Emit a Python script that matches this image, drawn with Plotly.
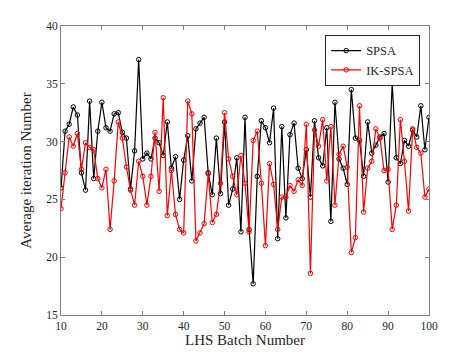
import plotly.graph_objects as go

batch = list(range(10, 101))

spsa = [26.0, 30.9, 31.5, 33.0, 32.3, 27.3, 25.8, 33.5, 26.8, 30.9,
        33.4, 31.2, 30.9, 32.4, 32.5, 30.8, 30.3, 25.9, 29.2, 37.1,
        28.5, 29.0, 28.5, 30.3, 29.9, 28.8, 31.7, 27.7, 28.7, 25.0,
        28.4, 30.5, 26.6, 31.1, 31.6, 32.1, 27.3, 25.4, 30.3, 25.5,
        31.7, 24.5, 25.9, 28.6, 22.2, 32.1, 22.4, 17.7, 27.0, 31.8,
        31.2, 29.9, 32.9, 21.6, 31.3, 23.4, 30.6, 31.6, 27.7, 26.8,
        29.3, 25.2, 31.8, 28.6, 27.9, 31.2, 23.1, 33.4, 28.5, 27.7,
        26.3, 34.5, 30.3, 30.1, 27.0, 31.7, 29.0, 29.7, 30.4, 30.7,
        26.5, 35.05, 28.6, 28.1, 30.1, 29.6, 31.0, 30.4, 33.1, 29.3,
        32.1]

ik_spsa = [24.2, 27.3, 30.4, 29.6, 30.7, 27.6, 29.9, 29.5, 29.3, 26.8,
           26.0, 27.6, 22.4, 26.6, 31.7, 30.3, 27.8, 25.8, 24.5, 28.3,
           27.0, 24.5, 27.0, 30.8, 25.7, 33.8, 23.6, 27.5, 23.7, 22.4,
           22.1, 33.5, 32.4, 21.4, 22.1, 22.9, 27.2, 23.0, 23.7, 26.4,
           32.5, 28.5, 27.0, 25.4, 28.8, 26.4, 22.2, 30.1, 30.9, 26.4,
           21.0, 28.1, 26.3, 22.4, 25.2, 25.2, 26.2, 25.7, 26.7, 26.2,
           31.5, 18.6, 31.0, 29.6, 31.9, 26.6, 31.3, 24.5, 28.9, 29.6,
           27.8, 20.4, 21.7, 33.1, 23.9, 27.7, 28.3, 31.1, 30.3, 27.5,
           27.6, 22.4, 24.5, 31.9, 28.3, 24.0, 31.1, 29.5, 29.0, 25.2,
           25.9]

x_ticks = [10, 20, 30, 40, 50, 60, 70, 80, 90, 100]
y_ticks = [15, 20, 25, 30, 35, 40]

font_family = "Liberation Serif, Times New Roman, serif"
txt = "#262626"

fig = go.Figure()
fig.add_trace(go.Scatter(
    x=batch, y=spsa, name="SPSA", mode="lines+markers",
    line=dict(color="black", width=1.2),
    marker=dict(symbol="circle-open", size=4.5, color="black", line=dict(width=1))))
fig.add_trace(go.Scatter(
    x=batch, y=ik_spsa, name="IK-SPSA", mode="lines+markers",
    line=dict(color="#ff0000", width=1.2),
    marker=dict(symbol="circle-open", size=4.5, color="#ff0000", line=dict(width=1))))

axis_common = dict(
    showgrid=False, zeroline=False, showline=True, linecolor="#808080",
    linewidth=1, mirror="ticks", ticks="inside", ticklen=4, tickcolor="#808080",
    tickfont=dict(family=font_family, size=11.5, color=txt))

fig.update_layout(
    width=466, height=347,
    margin=dict(l=53, r=45, t=18, b=40),
    paper_bgcolor="white", plot_bgcolor="white",
    font=dict(family=font_family, color=txt),
    showlegend=True,
    legend=dict(
        x=0.976, y=0.969, xanchor="right", yanchor="top",
        bgcolor="white", bordercolor="#262626", borderwidth=1,
        font=dict(family=font_family, size=12.5, color=txt),
        tracegroupgap=0, itemwidth=30),
    xaxis=dict(range=[10, 100], tickvals=x_ticks,
               title=dict(text="LHS Batch Number", font=dict(family=font_family, size=15, color=txt), standoff=2),
               **axis_common),
    yaxis=dict(range=[15, 40], tickvals=y_ticks,
               title=dict(text="Average iteration Number", font=dict(family=font_family, size=15, color=txt), standoff=10),
               **axis_common),
)

fig.write_html("out.html")
